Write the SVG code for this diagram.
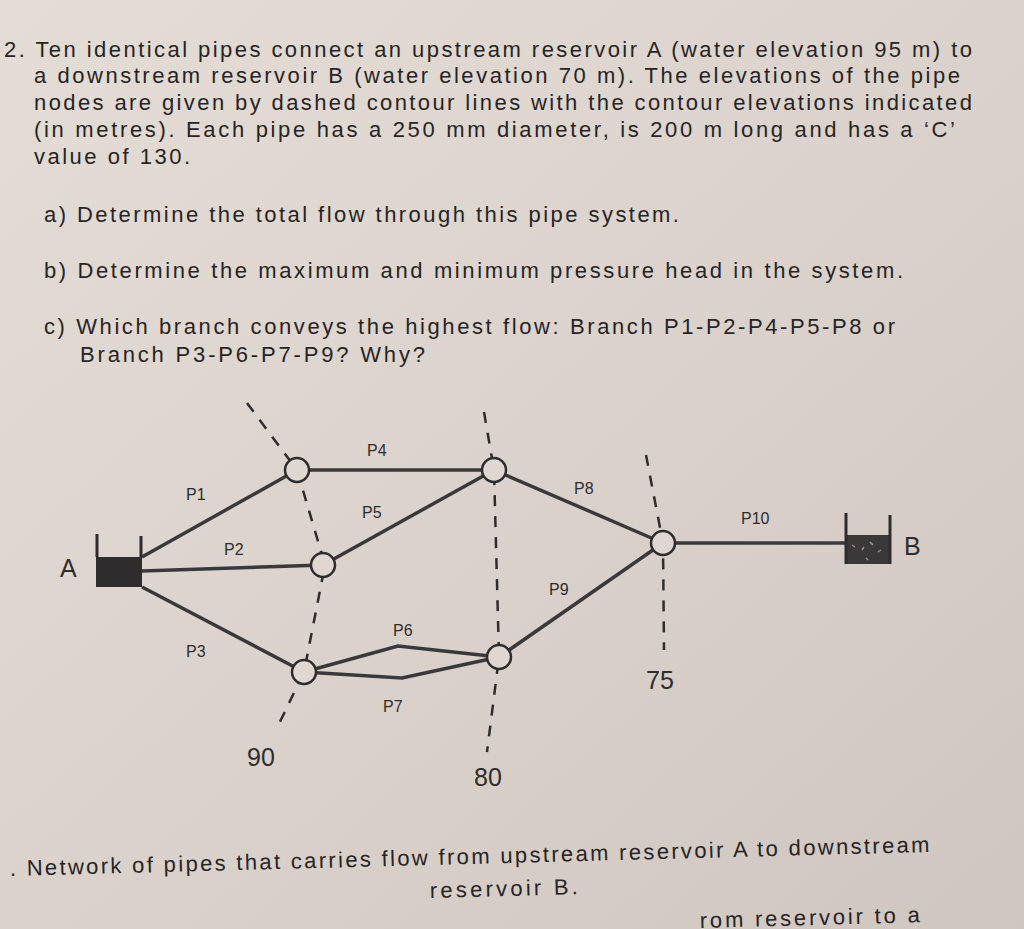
<svg xmlns="http://www.w3.org/2000/svg" width="1024" height="929" viewBox="0 0 1024 929">
<defs>
<linearGradient id="bg" x1="0" y1="0" x2="1" y2="1">
<stop offset="0" stop-color="#e4ddd6"/><stop offset="0.6" stop-color="#d9d1c9"/><stop offset="1" stop-color="#cfc6bf"/>
</linearGradient>
<style>
.t{font-family:"Liberation Sans",Arial,sans-serif;font-size:22px;fill:#262424}
.l{font-family:"Liberation Sans",Arial,sans-serif;font-size:16px;fill:#2e2c2c}
.big{font-family:"Liberation Sans",Arial,sans-serif;font-size:25px;fill:#2e2c2c}
.p{stroke:#3a3838;stroke-width:3.5;fill:none}
.c{stroke:#2e2c2c;stroke-width:2.5;fill:none;stroke-dasharray:11 10}
.n{fill:#e0d8d0;stroke:#2e2c2c;stroke-width:2.5}
</style>
</defs>
<rect width="1024" height="929" fill="url(#bg)"/>
<g id="text">
<text class="t" x="4" y="57" textLength="968" lengthAdjust="spacing">2. Ten identical pipes connect an upstream reservoir A (water elevation 95 m) to</text>
<text class="t" x="34" y="83" textLength="926" lengthAdjust="spacing">a downstream reservoir B (water elevation 70 m).  The elevations of the pipe</text>
<text class="t" x="34" y="110" textLength="938" lengthAdjust="spacing">nodes are given by dashed contour lines with the contour elevations indicated</text>
<text class="t" x="34" y="137" textLength="921" lengthAdjust="spacing">(in metres).  Each pipe has a 250 mm diameter, is 200 m long and has a ‘C’</text>
<text class="t" x="34" y="164" textLength="156" lengthAdjust="spacing">value of 130.</text>
<text class="t" x="44" y="222" textLength="635" lengthAdjust="spacing">a)  Determine the total flow through this pipe system.</text>
<text class="t" x="44" y="278" textLength="859" lengthAdjust="spacing">b)  Determine the maximum and minimum pressure head in the system.</text>
<text class="t" x="44" y="334" textLength="851" lengthAdjust="spacing">c)  Which branch conveys the highest flow: Branch P1-P2-P4-P5-P8 or</text>
<text class="t" x="80" y="362" textLength="345" lengthAdjust="spacing">Branch P3-P6-P7-P9? Why?</text>
<text class="t" x="10" y="876" transform="rotate(-1.5 10 876)" textLength="920" lengthAdjust="spacing">. Network of pipes that carries flow from upstream reservoir A to downstream</text>
<text class="t" x="430" y="898" transform="rotate(-1.5 430 898)" textLength="148" lengthAdjust="spacing">reservoir B.</text>
<text class="t" x="700" y="928" transform="rotate(-1.5 700 928)" font-size="18" textLength="220" lengthAdjust="spacing">rom reservoir to a</text>
</g>
<g id="contours">
<path class="c" d="M247,403 L297,470 L325,565 L304,672 L277,728"/>
<path class="c" d="M484,412 L494,470 L499,657 L487,752"/>
<path class="c" d="M646,455 L663,543 L664,650"/>
<text class="big" x="247" y="766">90</text>
<text class="big" x="474" y="786">80</text>
<text class="big" x="646" y="689">75</text>
</g>
<g id="connectors">
<path class="p" d="M142,557 L297,470"/>
<path class="p" d="M142,571 L323,565"/>
<path class="p" d="M142,587 L304,672"/>
<path class="p" d="M297,470 L494,470"/>
<path class="p" d="M323,565 L494,470"/>
<path class="p" d="M304,672 L398,646 L499,657"/>
<path class="p" d="M304,672 L402,678 L499,657"/>
<path class="p" d="M494,470 L663,543"/>
<path class="p" d="M499,657 L663,543"/>
<path class="p" d="M663,543 L845,543"/>
<text class="l" x="186" y="500">P1</text>
<text class="l" x="224" y="555">P2</text>
<text class="l" x="186" y="657">P3</text>
<text class="l" x="367" y="456">P4</text>
<text class="l" x="362" y="518">P5</text>
<text class="l" x="393" y="636">P6</text>
<text class="l" x="383" y="712">P7</text>
<text class="l" x="574" y="494">P8</text>
<text class="l" x="549" y="595">P9</text>
<text class="l" x="741" y="524">P10</text>
</g>
<g id="reservoirA">
<rect x="96" y="557" width="46" height="30" fill="#2e2c2c"/>
<path d="M97,534 V557 M141,536 V557" stroke="#2e2c2c" stroke-width="3"/>
<text class="big" x="60" y="577">A</text>
</g>
<g id="reservoirB">
<rect x="845" y="535" width="46" height="29" fill="#3a3838"/>
<path d="M852,545 l3,2 M862,550 l2,-3 M870,542 l3,3 M878,552 l3,-2 M866,558 l2,2" stroke="#9a9490" stroke-width="1.5"/>
<path d="M846,513 V564 M890,515 V564" stroke="#2e2c2c" stroke-width="3"/>
<text class="big" x="904" y="555">B</text>
</g>
<g id="nodes">
<circle id="n1" class="n" cx="297" cy="470" r="12"/>
<circle id="n2" class="n" cx="323" cy="565" r="12"/>
<circle id="n3" class="n" cx="304" cy="672" r="12"/>
<circle id="n4" class="n" cx="494" cy="470" r="12"/>
<circle id="n5" class="n" cx="499" cy="657" r="12"/>
<circle id="n6" class="n" cx="663" cy="543" r="12"/>
</g>
</svg>
